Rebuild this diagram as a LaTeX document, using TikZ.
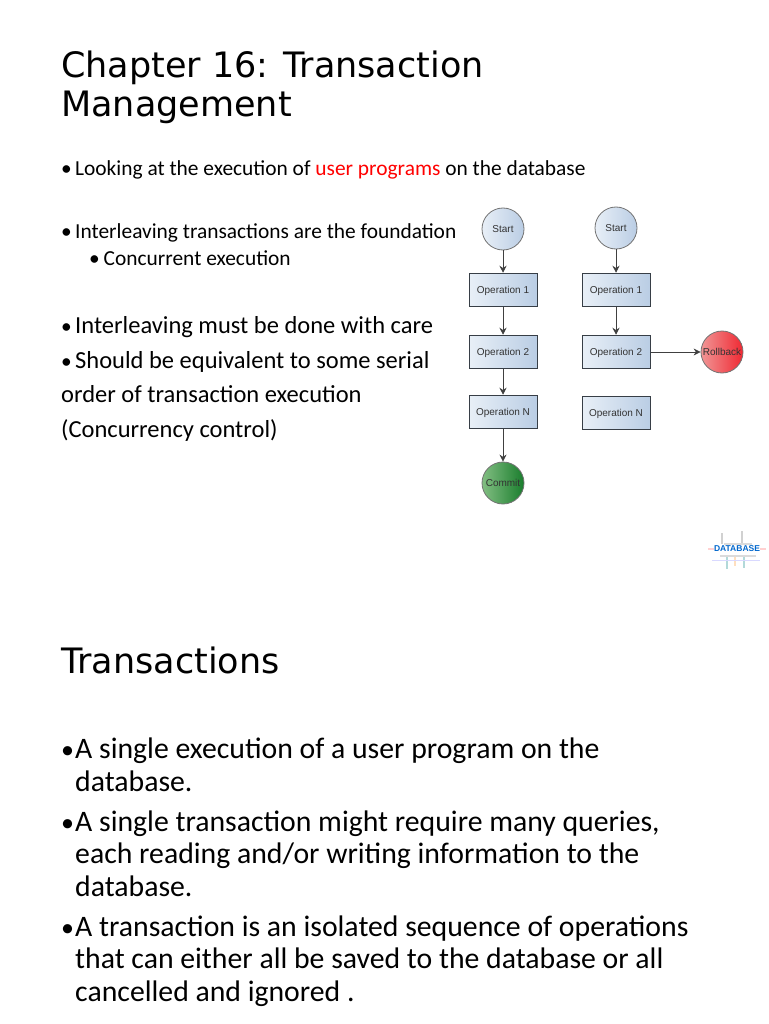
\documentclass[tikz,border=0pt]{standalone}
\usepackage{fontspec}
\setmainfont{Carlito}
\newfontfamily\titlefont{DejaVu Sans}
\newfontfamily\flowfont{Liberation Sans}
\usetikzlibrary{arrows.meta}
\definecolor{boxblue}{RGB}{186,205,228}
\definecolor{paleblue}{RGB}{232,239,247}
\definecolor{edgegrey}{RGB}{55,62,70}
\definecolor{palegreen}{RGB}{130,190,130}
\definecolor{deepgreen}{RGB}{25,125,45}
\definecolor{palered}{RGB}{240,150,150}
\definecolor{deepred}{RGB}{240,40,50}
\tikzset{
  title/.style={anchor=base west,inner sep=0,font=\titlefont\fontsize{35}{35}\selectfont},
  small/.style={anchor=base west,inner sep=0,font=\fontsize{21.4}{21.4}\selectfont},
  medium/.style={anchor=base west,inner sep=0,font=\fontsize{24.5}{24.5}\selectfont},
  large/.style={anchor=base west,inner sep=0,font=\fontsize{29.75}{29.75}\selectfont},
  dot/.style={anchor=base west,inner sep=0,font=\fontsize{#1}{#1}\selectfont},
  opbox/.style={draw=edgegrey,line width=1pt,left color=paleblue,right color=boxblue,text=black!80,text depth=0pt,
    minimum width=68pt,minimum height=33.5pt,inner sep=0,font=\flowfont\fontsize{10}{10}\selectfont},
  roundel/.style={circle,draw=black!55,line width=0.8pt,left color=#1,minimum size=42pt,inner sep=0,text=black!80,text depth=0pt,
    font=\flowfont\fontsize{10}{10}\selectfont},
  flow/.style={draw=black!75,line width=0.8pt,-{Stealth[length=7pt,width=7pt]}},
}
\begin{document}
\begin{tikzpicture}[x=1pt,y=-1pt]
  \useasboundingbox (0,0) rectangle (768,1024);
  % upper slide
  \node[title] (t1) at (61,78) {Chapter 16: Transaction};
  \node[title] (t2) at (61,117) {Management};
  \node[dot=21.4] (b1) at (61,176) {•};
  \node[small] (l1) at (75,176) {Looking at the execution of \textcolor{red}{user programs} on the database};
  \node[dot=21.4] (b2) at (61,238) {•};
  \node[small] (l2) at (75,238) {Interleaving transactions are the foundation};
  \node[dot=21.4] (b3) at (89,265) {•};
  \node[small] (l3) at (103.500,265) {Concurrent execution};
  \node[dot=21.4] (b4) at (61,333) {•};
  \node[medium] (l4) at (75,333) {Interleaving must be done with care};
  \node[dot=21.4] (b5) at (61,368) {•};
  \node[medium] (l5) at (75,368) {Should be equivalent to some serial};
  \node[medium] (l6) at (61,402) {order of transaction execution};
  \node[medium] (l7) at (61,437) {(Concurrency control)};
  % flow on the left
  \node[roundel=paleblue,right color=boxblue] (start1) at (503,229) {Start};
  \node[opbox] (op11) at (503,290) {Operation 1};
  \node[opbox] (op12) at (503,352) {Operation 2};
  \node[opbox] (op1n) at (503,412) {Operation N};
  \node[roundel=palegreen,right color=deepgreen] (commit) at (503,483) {Commit};
  \draw[flow] (start1) -- (op11);
  \draw[flow] (op11) -- (op12);
  \draw[flow] (op12) -- (op1n);
  \draw[flow] (op1n) -- (commit);
  % flow on the right
  \node[roundel=paleblue,right color=boxblue] (start2) at (616,228) {Start};
  \node[opbox] (op21) at (616,290) {Operation 1};
  \node[opbox] (op22) at (616,352) {Operation 2};
  \node[opbox] (op2n) at (616,413) {Operation N};
  \node[roundel=palered,right color=deepred] (rollback) at (722,352) {Rollback};
  \draw[flow] (start2) -- (op21);
  \draw[flow] (op21) -- (op22);
  \draw[flow] (op22) -- (rollback);
  % word cloud
  \draw[line width=1.5pt,black!18] (722,533) -- (722,544) (742,531) -- (742,544);
  \draw[line width=1.5pt,teal!30] (727,556) -- (727,569) (744,556) -- (744,568);
  \draw[line width=1.5pt,orange!25] (735,556) -- (735,566);
  \draw[line width=1.5pt,black!14] (724,544) -- (752,544) (720,556) -- (756,556);
  \draw[line width=1.5pt,red!18] (708,549) -- (714,549) (760,549) -- (766,549);
  \draw[line width=1pt,blue!15] (712,560) -- (760,560);
  \node[anchor=center,inner sep=0,text=blue!50!cyan!80!black,font=\flowfont\bfseries\fontsize{8.500}{8.500}\selectfont] (logo) at (737,549) {DATABASE};
  % lower slide
  \node[title] (t3) at (61,673) {Transactions};
  \node[dot=26] (b6) at (61,758) {•};
  \node[large] (m1) at (75,758) {A single execution of a user program on the};
  \node[large] (m2) at (75,791) {database.};
  \node[dot=26] (b7) at (61,831) {•};
  \node[large] (m3) at (75,831) {A single transaction might require many queries,};
  \node[large] (m4) at (75,863) {each reading and/or writing information to the};
  \node[large] (m5) at (75,896) {database.};
  \node[dot=26] (b8) at (61,936) {•};
  \node[large] (m6) at (75,936) {A transaction is an isolated sequence of operations};
  \node[large] (m7) at (75,968) {that can either all be saved to the database or all};
  \node[large] (m8) at (75,1001) {cancelled and ignored .};
\end{tikzpicture}
\end{document}
